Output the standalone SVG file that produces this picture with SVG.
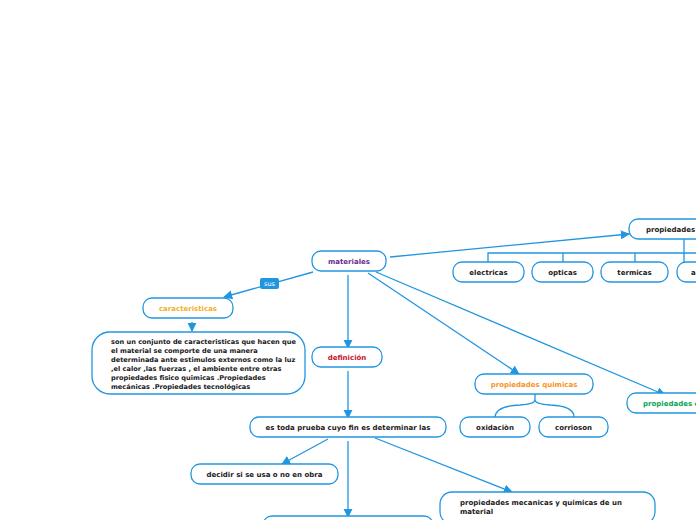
<svg xmlns="http://www.w3.org/2000/svg" width="696" height="520" viewBox="0 0 696 520">
<defs>
<style>
.n{fill:#fff;stroke:#2196e0;stroke-width:1.3}
text{font-family:"DejaVu Sans",Verdana,sans-serif;font-weight:bold;font-size:7px;fill:#1a1a1a}
.c{stroke:#2196e0;stroke-width:1.3;fill:none}
.t{text-anchor:middle}
.d{font-size:6.6px}
</style>
<marker id="a" viewBox="0 0 10 10" refX="9" refY="5" markerWidth="7" markerHeight="7" orient="auto"><path d="M0,0L10,5L0,10z" fill="#2196e0"/></marker>
</defs>
<rect width="696" height="520" fill="#fff"/>
<g id="connectors">
<path class="c" d="M390,257L629,234" marker-end="url(#a)"/>
<path class="c" d="M684,239V253M488,262V253H700M563,253V262M635,253V262M684,253V262"/>
<path class="c" d="M313,272L224,297" marker-end="url(#a)"/>
<path class="c" d="M192,322V331" marker-end="url(#a)"/>
<path class="c" d="M348,275V348" marker-end="url(#a)"/>
<path class="c" d="M348,371V418" marker-end="url(#a)"/>
<path class="c" d="M328,439L282,464" marker-end="url(#a)"/>
<path class="c" d="M348,441V517" marker-end="url(#a)"/>
<path class="c" d="M375,438L512,492" marker-end="url(#a)"/>
<path class="c" d="M368,273L519,374" marker-end="url(#a)"/>
<path class="c" d="M376,272L665,395" marker-end="url(#a)"/>
<path class="c" d="M535,394V400Q535,404 520,405Q496,406 495,417M535,400Q535,404 550,405Q574,406 574,417"/>
</g>
<g id="sus"><rect x="260" y="278" width="19" height="11" rx="2" fill="#2196e0"/><text x="269.5" y="286" class="t" style="fill:#fff;font-weight:normal;font-size:6.5px">sus</text></g>
<g id="materiales"><rect class="n" x="312" y="251" width="74" height="20" rx="9"/><text x="349" y="264" class="t" style="fill:#6a2c91">materiales</text></g>
<g id="propiedades"><rect class="n" x="629" y="219" width="110" height="20" rx="9"/><text x="646" y="232">propiedades</text></g>
<g id="electricas"><rect class="n" x="453" y="262" width="71" height="20" rx="9"/><text x="488.5" y="275" class="t">electricas</text></g>
<g id="opticas"><rect class="n" x="532" y="262" width="61" height="20" rx="9"/><text x="562.5" y="275" class="t">opticas</text></g>
<g id="termicas"><rect class="n" x="601" y="262" width="67" height="20" rx="9"/><text x="634.5" y="275" class="t">termicas</text></g>
<g id="cuarta"><rect class="n" x="677" y="262" width="60" height="20" rx="9"/><text x="691" y="275">a</text></g>
<g id="caracteristicas"><rect class="n" x="143" y="298" width="90" height="20" rx="9"/><text x="188" y="311" class="t" style="fill:#f5b01e">caracteristicas</text></g>
<g id="desc"><rect class="n" x="92" y="332" width="213" height="62" rx="18"/>
<text class="d" x="111" y="344">son un conjunto de caracteristicas que hacen que</text>
<text class="d" x="111" y="353">el material se comporte de una manera</text>
<text class="d" x="111" y="362">determinada ante estimulos externos como la luz</text>
<text class="d" x="111" y="371">,el calor ,las fuerzas , el ambiente entre otras</text>
<text class="d" x="111" y="380">propiedades fisico quimicas .Propiedades</text>
<text class="d" x="111" y="389">mecánicas .Propiedades tecnológicas</text></g>
<g id="definicion"><rect class="n" x="312" y="347" width="70" height="20" rx="9"/><text x="347" y="360" class="t" style="fill:#c8102e">definición</text></g>
<g id="prueba"><rect class="n" x="250" y="417" width="196" height="20" rx="9"/><text x="348" y="430" class="t">es toda prueba cuyo fin es determinar las</text></g>
<g id="decidir"><rect class="n" x="191" y="464" width="147" height="20" rx="9"/><text x="264.5" y="477" class="t">decidir si se usa o no en obra</text></g>
<g id="inferior"><rect class="n" x="263" y="516" width="170" height="20" rx="9"/></g>
<g id="mecanicas"><rect class="n" x="440" y="492" width="215" height="32" rx="12"/><text x="460" y="505">propiedades mecanicas y quimicas de un</text><text x="460" y="514">material</text></g>
<g id="quimicas"><rect class="n" x="475" y="374" width="118" height="20" rx="9"/><text x="534" y="387" class="t" style="fill:#f7941d">propiedades quimicas</text></g>
<g id="propE"><rect class="n" x="627" y="393" width="110" height="20" rx="9"/><text x="643" y="406" style="fill:#00a651">propiedades e</text></g>
<g id="oxidacion"><rect class="n" x="460" y="417" width="70" height="20" rx="9"/><text x="495" y="430" class="t">oxidaciòn</text></g>
<g id="corrioson"><rect class="n" x="539" y="417" width="69" height="20" rx="9"/><text x="573.5" y="430" class="t">corrioson</text></g>
</svg>
